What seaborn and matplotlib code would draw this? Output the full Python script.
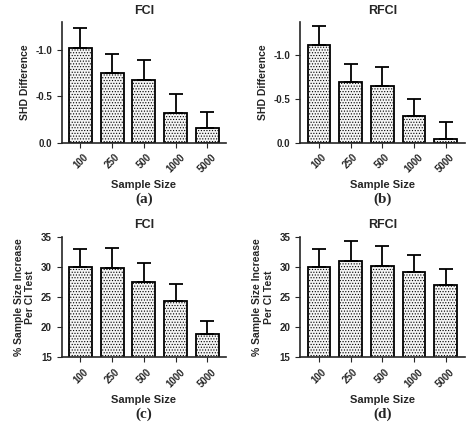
import seaborn as sns
import matplotlib
matplotlib.use('Agg')
import matplotlib.pyplot as plt
import pandas as pd

sizes = ["100", "250", "500", "1000", "5000"]

fci_shd = [1.02, 0.75, 0.68, 0.32, 0.16]
fci_shd_err = [0.22, 0.21, 0.21, 0.20, 0.17]
rfci_shd = [1.12, 0.69, 0.65, 0.30, 0.04]
rfci_shd_err = [0.21, 0.21, 0.21, 0.20, 0.20]

fci_pct = [30.0, 29.8, 27.5, 24.4, 18.8]
fci_pct_err = [3.0, 3.3, 3.1, 2.8, 2.2]
rfci_pct = [30.0, 30.9, 30.2, 29.1, 27.0]
rfci_pct_err = [3.0, 3.3, 3.2, 2.9, 2.7]

sns.set_style("ticks")
plt.rcParams['font.family'] = ['Liberation Sans', 'DejaVu Sans']
plt.rcParams['hatch.color'] = '#888888'
plt.rcParams['hatch.linewidth'] = 0.5

fig, axes = plt.subplots(2, 2, figsize=(4.74, 4.41), dpi=100)

panels = [
    (axes[0, 0], fci_shd, fci_shd_err, "FCI", "SHD Difference", "(a)", 1.3),
    (axes[0, 1], rfci_shd, rfci_shd_err, "RFCI", "SHD Difference", "(b)", 1.38),
    (axes[1, 0], fci_pct, fci_pct_err, "FCI", "% Sample Size Increase\nPer CI Test", "(c)", None),
    (axes[1, 1], rfci_pct, rfci_pct_err, "RFCI", "% Sample Size Increase\nPer CI Test", "(d)", None),
]

for i, (ax, vals, errs, title, ylabel, tag, top) in enumerate(panels):
    df = pd.DataFrame({"size": sizes, "val": vals})
    sns.barplot(data=df, x="size", y="val", ax=ax, color="#f4f4f4",
                edgecolor="black", linewidth=1.3, width=0.72)
    for b in ax.patches:
        b.set_hatch("......")
    ax.errorbar(range(len(sizes)), vals, yerr=[[0] * len(errs), errs], fmt="none",
                ecolor="black", elinewidth=1.3, capsize=5, capthick=1.3)
    if i < 2:
        ax.set_ylim(0, top)
        ax.set_yticks([0, 0.5, 1.0])
        ax.set_yticklabels(["0.0", "-0.5", "-1.0"])
    else:
        ax.set_ylim(15, 35)
        ax.set_yticks([15, 20, 25, 30, 35])
    sns.despine(ax=ax)
    ax.spines["left"].set_linewidth(1.2)
    ax.spines["bottom"].set_linewidth(1.2)
    ax.tick_params(axis="x", rotation=45, labelsize=7)
    ax.tick_params(axis="y", labelsize=7)
    for lbl in ax.get_xticklabels() + ax.get_yticklabels():
        lbl.set_fontweight("bold")
    ax.set_title(title, fontsize=9, fontweight="bold")
    ax.set_xlabel("Sample Size", fontsize=8, fontweight="bold")
    ax.set_ylabel(ylabel, fontsize=7.5, fontweight="bold")
    ax.text(0.5, -0.47, tag, transform=ax.transAxes, ha="center", va="center",
            fontsize=11, fontweight="bold", family=["Liberation Serif", "DejaVu Serif"])

plt.subplots_adjust(left=0.13, right=0.98, top=0.95, bottom=0.19, wspace=0.45, hspace=0.78)
plt.savefig("out.png", dpi=100)
plt.close()
